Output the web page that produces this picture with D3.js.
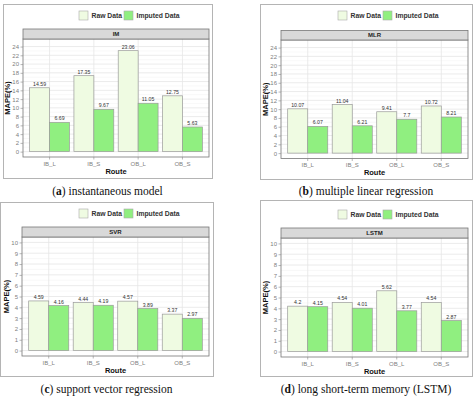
<!DOCTYPE html>
<html><head><meta charset="utf-8">
<script src="https://cdn.jsdelivr.net/npm/d3@7"></script>
<style>body{margin:0;background:#fff}svg{display:block}</style>
</head><body>
<svg id="c" width="474" height="397"></svg>
<script>
const routes = ["IB_L","IB_S","OB_L","OB_S"];
const seriesNames = ["Raw Data","Imputed Data"];
const models = ["IM","MLR","SVR","LSTM"];
const captions = [
  ["a"," instantaneous model"],
  ["b"," multiple linear regression"],
  ["c"," support vector regression"],
  ["d"," long short-term memory (LSTM)"]
];
const rawIM = [14.59,17.35,23.06,12.75];
const impIM = [6.69,9.67,11.05,5.63];
const rawMLR = [10.07,11.04,9.41,10.72];
const impMLR = [6.07,6.21,7.7,8.21];
const rawSVR = [4.59,4.44,4.57,3.37];
const impSVR = [4.16,4.19,3.89,2.97];
const rawLSTM = [4.2,4.54,5.62,4.54];
const impLSTM = [4.15,4.01,3.77,2.87];
const yLimits = [[0,24.5],[0,24.5],[0,10],[0,10]];
const yTicks = [d3.range(0,25,2), d3.range(0,25,2), d3.range(0,11,1), d3.range(0,11,1)];
const rawLabels = [["14.59","17.35","23.06","12.75"],["10.07","11.04","9.41","10.72"],["4.59","4.44","4.57","3.37"],["4.2","4.54","5.62","4.54"]];
const impLabels = [["6.69","9.67","11.05","5.63"],["6.07","6.21","7.7","8.21"],["4.16","4.19","3.89","2.97"],["4.15","4.01","3.77","2.87"]];
const data = [[rawIM,impIM],[rawMLR,impMLR],[rawSVR,impSVR],[rawLSTM,impLSTM]];

// layout geometry (pixels)
const layout = [
  {frame:[3,4,212,178], plot:[23,39,209,157], stripTop:29, legY:11, legX:79, capY:195},
  {frame:[260,4,472,179], plot:[281,40,468,158.5], stripTop:30.5, legY:11, legX:338, capY:195},
  {frame:[0,202,213,376], plot:[22,237,209,356], stripTop:227, legY:209, legX:79, capY:393},
  {frame:[260,200,472,376], plot:[281,238,468,357], stripTop:228, legY:210, legX:338, capY:393}
];
const fills = ["#effbe2","#90ef80"];
const barStroke = "#9a9a9a";
const svg = d3.select("#c");
const sans = "Liberation Sans, Arial, sans-serif";

models.forEach((m,i)=>{
  const L = layout[i];
  const g = svg.append("g");
  // outer frame
  g.append("rect").attr("x",L.frame[0]+0.5).attr("y",L.frame[1]+0.5)
    .attr("width",L.frame[2]-L.frame[0]).attr("height",L.frame[3]-L.frame[1])
    .attr("fill","#fff").attr("stroke","#b4b4b4").attr("stroke-width",1);
  const [x0,y0,x1,y1] = L.plot;
  const lim = yLimits[i];
  const ex = (lim[1]-lim[0])*0.05;
  const y = d3.scaleLinear().domain([lim[0]-ex, lim[1]+ex]).range([y1,y0]);
  const x = d3.scaleBand().domain(routes).range([x0,x1]).paddingInner(0.1).paddingOuter(0.15);
  const xs = d3.scaleBand().domain(seriesNames).range([0,x.bandwidth()]);
  // grid
  const minor = [];
  const tk = yTicks[i];
  for(let k=0;k<tk.length-1;k++) minor.push((tk[k]+tk[k+1])/2);
  g.append("g").selectAll("line").data(minor).join("line")
    .attr("x1",x0).attr("x2",x1).attr("y1",d=>y(d)).attr("y2",d=>y(d))
    .attr("stroke","#f3f3f3").attr("stroke-width",0.6);
  g.append("g").selectAll("line").data(tk).join("line")
    .attr("x1",x0).attr("x2",x1).attr("y1",d=>y(d)).attr("y2",d=>y(d))
    .attr("stroke","#e6e6e6").attr("stroke-width",0.8);
  g.append("g").selectAll("line").data(routes).join("line")
    .attr("x1",d=>x(d)+x.bandwidth()/2).attr("x2",d=>x(d)+x.bandwidth()/2).attr("y1",y0).attr("y2",y1)
    .attr("stroke","#e6e6e6").attr("stroke-width",0.8);
  // bars
  seriesNames.forEach((s,si)=>{
    const vals = data[i][si];
    const labs = si===0 ? rawLabels[i] : impLabels[i];
    g.append("g").selectAll("rect").data(routes).join("rect")
      .attr("x",(r)=>x(r)+xs(s)).attr("width",xs.bandwidth())
      .attr("y",(r,j)=>y(vals[j])).attr("height",(r,j)=>y(0)-y(vals[j]))
      .attr("fill",fills[si]).attr("stroke",barStroke).attr("stroke-width",0.7);
    g.append("g").selectAll("text").data(routes).join("text")
      .attr("x",(r)=>x(r)+xs(s)+xs.bandwidth()/2).attr("y",(r,j)=>y(vals[j])-2)
      .attr("text-anchor","middle").attr("font-family",sans).attr("font-size",5.2)
      .attr("fill","#333").text((r,j)=>labs[j]);
  });
  // panel border
  g.append("rect").attr("x",x0).attr("y",y0).attr("width",x1-x0).attr("height",y1-y0)
    .attr("fill","none").attr("stroke","#777").attr("stroke-width",0.8);
  // strip
  g.append("rect").attr("x",x0).attr("y",L.stripTop).attr("width",x1-x0).attr("height",y0-L.stripTop)
    .attr("fill","#d9d9d9").attr("stroke","#777").attr("stroke-width",0.8);
  g.append("text").attr("x",(x0+x1)/2).attr("y",(L.stripTop+y0)/2+2).attr("text-anchor","middle")
    .attr("font-family",sans).attr("font-size",6).attr("font-weight","bold").attr("fill","#222").text(m);
  // y axis
  const ya = g.append("g").attr("transform",`translate(${x0},0)`)
    .call(d3.axisLeft(y).tickValues(tk).tickSize(2.5).tickPadding(1.5).tickFormat(d3.format("d")));
  ya.select(".domain").remove();
  ya.selectAll("line").attr("stroke","#888").attr("stroke-width",0.6);
  ya.selectAll("text").attr("font-family",sans).attr("font-size",6).attr("fill","#808080");
  // x axis
  const xa = g.append("g").attr("transform",`translate(0,${y1})`)
    .call(d3.axisBottom(x).tickSize(2.5).tickPadding(2));
  xa.select(".domain").remove();
  xa.selectAll("line").attr("stroke","#888").attr("stroke-width",0.6);
  xa.selectAll("text").attr("font-family",sans).attr("font-size",6).attr("fill","#808080");
  // axis titles
  g.append("text").attr("x",(x0+x1)/2).attr("y",y1+16.5).attr("text-anchor","middle")
    .attr("font-family",sans).attr("font-size",7.5).attr("font-weight","bold").attr("fill","#111").text("Route");
  g.append("text").attr("transform",`translate(${x0-13},${(y0+y1)/2}) rotate(-90)`).attr("text-anchor","middle")
    .attr("font-family",sans).attr("font-size",7.5).attr("font-weight","bold").attr("fill","#111").text("MAPE(%)");
  // legend
  const lg = g.append("g").attr("transform",`translate(${L.legX},${L.legY})`);
  const legX = [0,45];
  seriesNames.forEach((s,si)=>{
    lg.append("rect").attr("x",legX[si]).attr("y",0).attr("width",9).attr("height",9)
      .attr("fill",fills[si]).attr("stroke","#aaa").attr("stroke-width",0.6);
    lg.append("text").attr("x",legX[si]+12.5).attr("y",7).attr("font-family",sans).attr("font-size",6.8)
      .attr("font-weight","bold").attr("fill","#333").text(s);
  });
  // caption
  const cap = g.append("text").attr("x",(L.frame[0]+L.frame[2])/2).attr("y",L.capY).attr("text-anchor","middle")
    .attr("font-family","Liberation Serif, serif").attr("font-size",11.5).attr("fill","#111");
  cap.append("tspan").text("(");
  cap.append("tspan").attr("font-weight","bold").text(captions[i][0]);
  cap.append("tspan").text(")"+captions[i][1]);
});
</script>
</body></html>
